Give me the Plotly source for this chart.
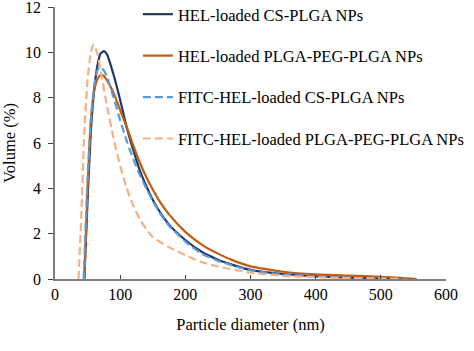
import plotly.graph_objects as go

# HEL-loaded CS-PLGA NPs
x_cs = [45, 50, 55, 60, 65, 70, 75, 80, 90, 100, 110, 120, 130, 140, 150, 160, 175, 200, 225, 250, 275, 300, 350, 400, 450, 500, 550]
y_cs = [0, 3.5, 6.5, 8.3, 9.4, 9.95, 10.05, 9.9, 9.0, 7.9, 6.7, 5.7, 4.8, 4.1, 3.5, 3.0, 2.4, 1.72, 1.2, 0.85, 0.6, 0.4, 0.22, 0.12, 0.06, 0.03, 0.0]

# HEL-loaded PLGA-PEG-PLGA NPs
x_peg = [45, 50, 55, 60, 65, 70, 75, 80, 90, 100, 110, 120, 130, 140, 150, 160, 175, 200, 225, 250, 275, 300, 350, 400, 450, 500, 530, 555]
y_peg = [0, 4.0, 7.0, 8.3, 8.8, 9.0, 8.95, 8.75, 8.2, 7.45, 6.7, 5.9, 5.15, 4.5, 3.95, 3.45, 2.85, 2.08, 1.52, 1.12, 0.8, 0.56, 0.32, 0.2, 0.15, 0.1, 0.05, 0.0]

# FITC-HEL-loaded CS-PLGA NPs
x_fcs = [44, 50, 55, 60, 65, 69, 75, 80, 90, 100, 110, 120, 130, 140, 150, 160, 175, 200, 225, 250, 300, 350, 400, 450, 500, 540]
y_fcs = [0, 4.5, 7.0, 8.5, 9.2, 9.35, 9.2, 8.9, 8.0, 7.0, 6.1, 5.3, 4.6, 4.0, 3.45, 2.95, 2.35, 1.65, 1.12, 0.8, 0.38, 0.2, 0.1, 0.05, 0.02, 0.0]

# FITC-HEL-loaded PLGA-PEG-PLGA NPs
x_fpeg = [36, 40, 45, 50, 55, 59, 65, 70, 80, 90, 100, 110, 120, 130, 140, 150, 175, 200, 225, 250, 300, 350, 400, 450, 500, 530]
y_fpeg = [0, 2.5, 6.5, 8.8, 10.0, 10.35, 9.95, 9.2, 7.6, 6.2, 5.0, 4.0, 3.25, 2.65, 2.2, 1.85, 1.4, 1.05, 0.75, 0.55, 0.28, 0.14, 0.08, 0.04, 0.02, 0.0]

x_ticks = [0, 100, 200, 300, 400, 500, 600]
y_ticks = [0, 2, 4, 6, 8, 10, 12]

series = [
    ("HEL-loaded CS-PLGA NPs", x_cs, y_cs, "#1F3864", "solid"),
    ("HEL-loaded PLGA-PEG-PLGA NPs", x_peg, y_peg, "#C55A11", "solid"),
    ("FITC-HEL-loaded CS-PLGA NPs", x_fcs, y_fcs, "#5B9BD5", "8px,4px"),
    ("FITC-HEL-loaded PLGA-PEG-PLGA NPs", x_fpeg, y_fpeg, "#F4B183", "8px,4px"),
]

fig = go.Figure()
for i, (name, xs, ys, col, dash) in enumerate(series):
    fig.add_trace(go.Scatter(
        x=xs, y=ys, name=name, mode="lines", legendgroup=str(i),
        line=dict(color=col, width=2.2, dash=dash, shape="spline", smoothing=0.5),
    ))

font_family = "Liberation Serif"
fig.update_layout(
    width=474, height=351,
    margin=dict(l=55, r=28, t=6.5, b=71.5, autoexpand=False),
    plot_bgcolor="white", paper_bgcolor="white",
    font=dict(family=font_family, size=16, color="black"),
    showlegend=True,
    legend=dict(
        x=0.212, y=1.037, xanchor="left", yanchor="top",
        font=dict(family=font_family, size=16.5, color="black"),
        bgcolor="rgba(0,0,0,0)", tracegroupgap=17, itemwidth=30,
    ),
    xaxis=dict(
        range=[0, 600], tickvals=x_ticks, ticks="inside", ticklen=4, tickcolor="#404040",
        showline=True, linecolor="#7f7f7f", linewidth=1.5, showgrid=False, zeroline=False,
        title=dict(text="Particle diameter (nm)", font=dict(size=16.5), standoff=16),
        tickfont=dict(size=16), automargin=False, ticklabeloverflow="allow",
    ),
    yaxis=dict(
        range=[0, 12], tickvals=y_ticks, ticks="outside", ticklen=5, tickcolor="#404040",
        showline=True, linecolor="#7f7f7f", linewidth=1.5, showgrid=False, zeroline=False,
        title=dict(text="Volume (%)", font=dict(size=16.5), standoff=10),
        tickfont=dict(size=16), automargin=False, ticklabeloverflow="allow",
        ticklabelstandoff=4,
    ),
)

fig.write_html("out.html")
